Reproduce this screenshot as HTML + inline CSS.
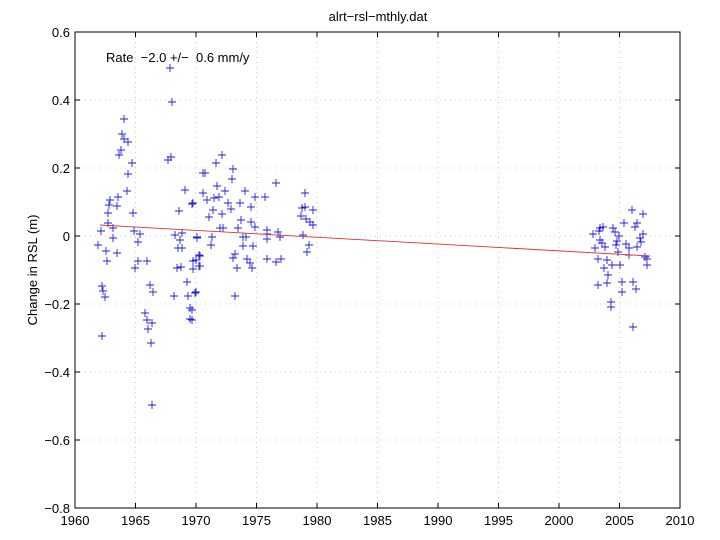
<!DOCTYPE html>
<html><head><meta charset="utf-8"><style>body{margin:0;background:#fff}svg{display:block}</style></head><body>
<svg id="s" width="720" height="540" xmlns="http://www.w3.org/2000/svg" font-family="Liberation Sans, sans-serif" font-size="13">
<rect width="720" height="540" fill="#fff"/>
<g id="grid" stroke="#bbb" stroke-width="0.8" stroke-dasharray="1,4"></g>
<rect x="75" y="32" width="605" height="476" fill="none" stroke="#000" stroke-width="1"/>
<g id="ticks" stroke="#000" stroke-width="1"></g>
<g id="lbl" fill="#000"></g>
<text x="378" y="21" text-anchor="middle">alrt−rsl−mthly.dat</text>
<text transform="translate(37,270) rotate(-90)" text-anchor="middle">Change in RSL (m)</text>
<text x="106" y="62" style="white-space:pre">Rate  −2.0 +/−  0.6 mm/y</text>
<path id="pts" fill="none" stroke="#2222dd" stroke-width="0.9"/>
<line x1="100" y1="225" x2="650" y2="256" stroke="#e03030" stroke-width="0.9"/>
</svg>
<script>
var ns="http://www.w3.org/2000/svg",g=document.getElementById('grid'),t=document.getElementById('ticks'),l=document.getElementById('lbl');
function el(p,n,a,txt){var e=document.createElementNS(ns,n);for(var k in a)e.setAttribute(k,a[k]);if(txt)e.textContent=txt;p.appendChild(e);}
for(var i=0;i<=10;i++){var x=75+i*60.5;
if(i>0&&i<10)el(g,'line',{x1:x,y1:32,x2:x,y2:508});
el(t,'line',{x1:x,y1:508,x2:x,y2:503});el(t,'line',{x1:x,y1:32,x2:x,y2:37});
el(l,'text',{x:x,y:525,'text-anchor':'middle'},String(1960+5*i));}
var yl=['0.6','0.4','0.2','0','−0.2','−0.4','−0.6','−0.8'];
for(var j=0;j<8;j++){var y=32+j*68;
if(j>0&&j<7)el(g,'line',{x1:75,y1:y,x2:680,y2:y});
el(t,'line',{x1:75,y1:y,x2:80,y2:y});el(t,'line',{x1:680,y1:y,x2:675,y2:y});
el(l,'text',{x:70,y:y+5,'text-anchor':'end'},yl[j]);}
var P=[[124,119],[122,134],[124,139],[128,142],[121,150],[119,155],[132,163],[128,174],[127,191],[118,197],[110,200],[109,205],[117,206],[108,213],[133,213],[108,223],[101,231],[113,228],[134,231],[140,234],[113,238],[138,242],[98,245],[106,251],[117,253],[107,261],[138,261],[147,261],[135,268],[102,286],[103,291],[105,297],[150,285],[153,292],[145,313],[147,320],[152,323],[148,329],[151,343],[102,336],[152,405],[170,68],[172,102],[171,157],[168,160],[185,190],[203,173],[203,193],[192,204],[179,211],[175,235],[182,233],[180,240],[197,238],[178,248],[182,248],[177,268],[181,267],[193,261],[200,256],[199,266],[187,282],[174,296],[188,296],[196,292],[190,308],[190,319],
[222,155],[216,163],[205,173],[233,169],[232,179],[217,186],[203,193],[225,191],[245,191],[276,183],[305,193],[207,200],[214,198],[219,197],[193,203],[228,203],[240,203],[255,197],[265,197],[251,207],[213,210],[231,209],[222,214],[209,217],[302,208],[305,207],[313,210],[301,216],[306,219],[310,222],[313,225],[241,220],[251,222],[220,228],[223,228],[238,228],[255,227],[267,230],[278,232],[267,234],[280,237],[303,235],[197,237],[212,237],[243,237],[246,237],[211,245],[243,246],[253,246],[267,239],[309,245],[307,252],[199,255],[235,254],[196,260],[233,258],[247,259],[267,259],[281,259],[276,262],[250,263],[200,266],[237,268],[252,268],[193,269],[195,293],[235,296],[192,310],[192,320],
[632,210],[643,214],[624,223],[637,223],[603,227],[613,228],[635,227],[593,234],[599,231],[615,232],[619,236],[643,234],[600,240],[617,241],[640,238],[641,242],[602,243],[595,248],[605,247],[616,245],[626,244],[629,248],[637,247],[618,252],[629,255],[645,257],[598,259],[607,260],[647,259],[647,265],[604,268],[612,265],[620,265],[608,275],[598,285],[607,283],[622,282],[633,282],[622,292],[636,289],[611,302],[611,307],[633,327],[600,228]];
var d='';P.forEach(function(p){d+='M'+(p[0]-4)+' '+p[1]+'h8M'+p[0]+' '+(p[1]-4)+'v8';});
document.getElementById('pts').setAttribute('d',d);
</script>
</body></html>
